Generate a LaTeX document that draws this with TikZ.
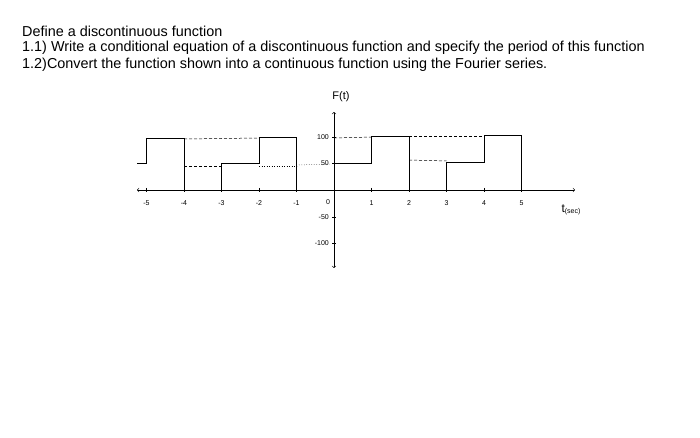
\documentclass[tikz,border=0pt]{standalone}
\usepackage{fontspec}
\setmainfont{Liberation Sans}
\begin{document}
\begin{tikzpicture}[x=1pt,y=-1pt,
  sig/.style={line width=0.8pt},
  guide/.style={densely dashed,line width=0.5pt},
  lab/.style={font=\fontsize{7}{8}\selectfont,inner sep=1pt},
  ttl/.style={font=\fontsize{14.4}{16}\selectfont,anchor=west,inner sep=0pt}]
\useasboundingbox (0,0) rectangle (700,438);
\node[ttl] (l1) at (22,31) {Define a discontinuous function};
\node[ttl] (l2) at (22,48) {1.1) Write a conditional equation of a discontinuous function and specify the period of this function};
\node[ttl] (l3) at (22,65) {1.2)Convert the function shown into a continuous function using the Fourier series.};
% axes
\coordinate (xl) at (137,190); \coordinate (xr) at (575,190);
\coordinate (yt) at (334,112); \coordinate (yb) at (334,268);
\draw[<->,line width=0.6pt] (xl) -- (xr);
\draw[<->,line width=0.6pt] (yt) -- (yb);
\node[font=\fontsize{11}{12}\selectfont] (F) at (341,97) {F(t)};
\node[font=\fontsize{12}{12}\selectfont,anchor=west] (T) at (558,210) {t\raisebox{-1pt}{\fontsize{7}{8}\selectfont(sec)}};
% x ticks
\foreach \i in {-5,-4,-3,-2,-1,1,2,3,4,5}{
  \draw (334+37.5*\i,188) -- (334+37.5*\i,192);
  \node[lab] at (334+37.5*\i,203) {\i};
}
\node[lab] (zero) at (328,202) {0};
\foreach \v/\yy in {100/137,50/163,-50/217,-100/243}{
  \draw (332,\yy) -- (336,\yy);
  \node[lab,anchor=east] at (330,\yy) {\v};
}
% signal
\draw[sig] (137,163) -- (146.5,163) -- (146.5,138) -- (184,138) -- (184,190);
\draw[sig] (221.5,190) -- (221.5,163) -- (259,163) -- (259,137) -- (296.5,137) -- (296.5,190);
\draw[sig] (334,163) -- (371.5,163) -- (371.5,136) -- (409,136) -- (409,190);
\draw[sig] (446.5,190) -- (446.5,162) -- (484,162) -- (484,135) -- (521.5,135) -- (521.5,190);
% guides
\draw[guide] (184,139) -- (259,138);
\draw[guide] (184,166) -- (221.5,166);
\draw[guide,dotted] (259,166) -- (296.5,166);
\draw[guide,dotted] (296.5,165) -- (330,164);
\draw[guide] (334,138) -- (371.5,137);
\draw[guide] (409,136) -- (484,136);
\draw[guide] (409,160) -- (446.5,161);
\end{tikzpicture}
\end{document}
